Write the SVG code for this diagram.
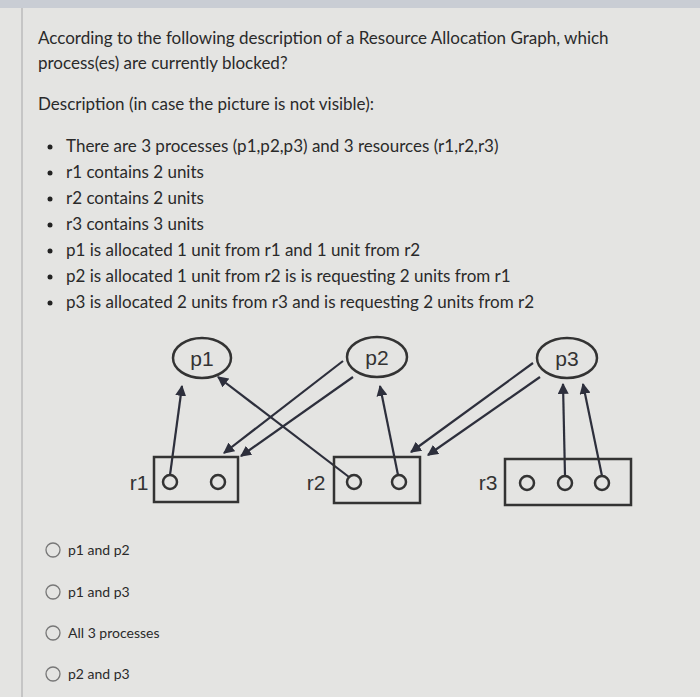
<svg xmlns="http://www.w3.org/2000/svg" width="700" height="697" viewBox="0 0 700 697">
<defs>
<marker id="ah" viewBox="0 0 10 10" refX="9" refY="5" markerWidth="5" markerHeight="5" orient="auto"><path d="M0,0L10,5L0,10z" fill="#2d2f3c"/></marker>
<style>
.t{font-family:Lato,"Liberation Sans",sans-serif;font-size:17px;fill:#2a2a2a}
.d{font-family:"Liberation Sans",Arial,sans-serif;font-size:21px;fill:#333}
.n{fill:none;stroke:#333;stroke-width:2.5}
.e{stroke:#2d2f3c;stroke-width:2.2;fill:none;marker-end:url(#ah)}
.r{fill:none;stroke:#777;stroke-width:1.3}
</style>
</defs>
<rect width="700" height="697" fill="#e4e4e2"/>
<rect x="0" y="0" width="700" height="8" fill="#c9cdd4"/>
<line x1="22" y1="8" x2="22" y2="697" stroke="#bbb" stroke-width="1.5"/>
<text class="t" x="38" y="44">According to the following description of a Resource Allocation Graph, which</text>
<text class="t" x="38" y="69">process(es) are currently blocked?</text>
<text class="t" x="38" y="110">Description (in case the picture is not visible):</text>
<g class="t">
<circle cx="50" cy="147" r="2.5" fill="#222"/><text x="66" y="152">There are 3 processes (p1,p2,p3) and 3 resources (r1,r2,r3)</text>
<circle cx="50" cy="173" r="2.5" fill="#222"/><text x="66" y="178">r1 contains 2 units</text>
<circle cx="50" cy="199" r="2.5" fill="#222"/><text x="66" y="204">r2 contains 2 units</text>
<circle cx="50" cy="225" r="2.5" fill="#222"/><text x="66" y="230">r3 contains 3 units</text>
<circle cx="50" cy="251" r="2.5" fill="#222"/><text x="66" y="256">p1 is allocated 1 unit from r1 and 1 unit from r2</text>
<circle cx="50" cy="277" r="2.5" fill="#222"/><text x="66" y="282">p2 is allocated 1 unit from r2 is is requesting 2 units from r1</text>
<circle cx="50" cy="303" r="2.5" fill="#222"/><text x="66" y="308">p3 is allocated 2 units from r3 and is requesting 2 units from r2</text>
</g>
<g id="connectors">
<line class="e" x1="170" y1="475" x2="182" y2="386"/>
<line class="e" x1="349" y1="477" x2="218" y2="377"/>
<line class="e" x1="343" y1="361" x2="224" y2="453"/>
<line class="e" x1="353" y1="377" x2="241" y2="456"/>
<line class="e" x1="398" y1="475" x2="380" y2="386"/>
<line class="e" x1="533" y1="363" x2="411" y2="452"/>
<line class="e" x1="540" y1="377" x2="428" y2="455"/>
<line class="e" x1="565" y1="476" x2="563" y2="384"/>
<line class="e" x1="602" y1="476" x2="583" y2="384"/>
</g>
<g id="p1"><ellipse class="n" cx="202" cy="358" rx="29" ry="20"/><text class="d" x="202" y="366" text-anchor="middle">p1</text></g>
<g id="p2"><ellipse class="n" cx="377" cy="357" rx="30" ry="20"/><text class="d" x="377" y="365" text-anchor="middle">p2</text></g>
<g id="p3"><ellipse class="n" cx="567" cy="358" rx="30" ry="20"/><text class="d" x="567" y="366" text-anchor="middle">p3</text></g>
<g id="r1"><rect class="n" x="154" y="457" width="84" height="45"/><text class="d" x="139" y="490" text-anchor="middle">r1</text><circle class="n" cx="170" cy="482" r="7"/><circle class="n" cx="218" cy="482" r="7"/></g>
<g id="r2"><rect class="n" x="334" y="457" width="86" height="46"/><text class="d" x="316" y="490" text-anchor="middle">r2</text><circle class="n" cx="354" cy="482" r="7"/><circle class="n" cx="399" cy="482" r="7"/></g>
<g id="r3"><rect class="n" x="505" y="459" width="126" height="46"/><text class="d" x="488" y="490" text-anchor="middle">r3</text><circle class="n" cx="527" cy="483" r="7"/><circle class="n" cx="565" cy="483" r="7"/><circle class="n" cx="602" cy="483" r="7"/></g>
<g class="t">
<circle class="r" cx="53" cy="550" r="7"/><text x="68" y="555" style="font-size:14px">p1 and p2</text>
<circle class="r" cx="53" cy="592" r="7"/><text x="68" y="597" style="font-size:14px">p1 and p3</text>
<circle class="r" cx="53" cy="633" r="7"/><text x="68" y="638" style="font-size:14px">All 3 processes</text>
<circle class="r" cx="53" cy="674" r="7"/><text x="68" y="679" style="font-size:14px">p2 and p3</text>
</g>
</svg>
